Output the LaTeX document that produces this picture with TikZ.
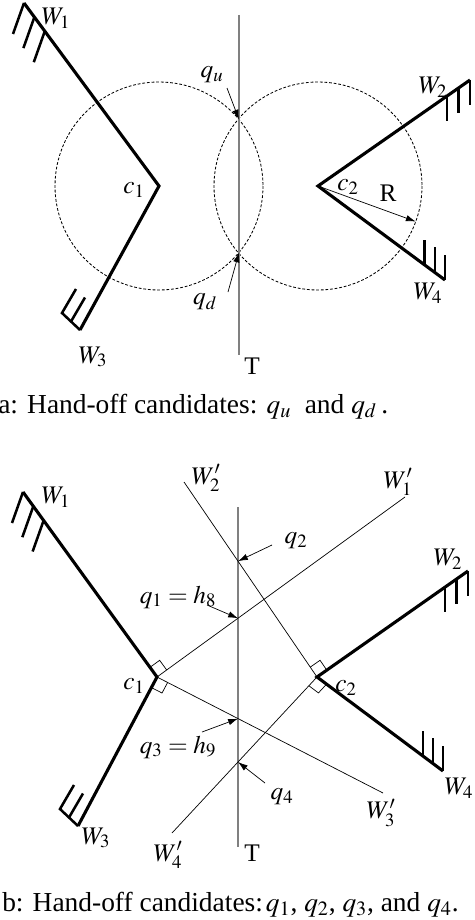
\documentclass[tikz,border=0pt]{standalone}
\usepackage{mathptmx}
\usepackage{fontspec}
\setmainfont{Liberation Serif}
\usetikzlibrary{calc,arrows.meta}
\tikzset{
  wall/.style={line width=2.2pt},
  hatch/.style={line width=1.8pt},
  thinline/.style={line width=0.5pt},
  track/.style={line width=0.9pt, gray},
  sensecircle/.style={dash pattern=on 2pt off 1.3pt, line width=0.6pt},
  pointer/.style={line width=0.5pt, -{Latex[length=7pt,width=4.5pt]}},
  lbl/.style={font=\fontsize{18}{21}\selectfont, inner sep=1pt},
  caption/.style={font=\fontsize{19.5}{23}\selectfont, inner sep=0pt}
}
% right-angle mark at corner #1 between directions to #2 and #3
\newcommand{\perpmark}[3]{%
  \draw[thinline] ($(#1)!8.5pt!(#2)$) -- ($(#1)!8.5pt!(#2)+(#1)!8.5pt!(#3)-(#1)$) -- ($(#1)!8.5pt!(#3)$);}

\begin{document}
\begin{tikzpicture}[x=0.025cm, y=-0.025cm]
  \useasboundingbox (0,0) rectangle (474,920);

  % ---- a: two circles of radius R
  \coordinate (c1) at (159,186);
  \coordinate (c2) at (318,186);
  \coordinate (w1) at (24,3);
  \coordinate (w3) at (80,330);
  \coordinate (w2) at (470,80);
  \coordinate (w4) at (445,280);
  \coordinate (tt) at (239,15);
  \coordinate (tb) at (239,355);
  \coordinate (qu) at (239,119.5);
  \coordinate (qd) at (239,252.5);

  \draw[sensecircle] (c1) circle[radius=104];
  \draw[sensecircle] (c2) circle[radius=104];
  \draw[track] (tt) -- (tb);

  \draw[wall] (w1) -- (c1) -- (w3);
  \draw[wall] (w2) -- (c2) -- (w4);
  \foreach \t in {0,0.077,0.154} \draw[hatch] ($(w1)!\t!(c1)$) -- ++(-11,31);
  \draw[hatch, line join=miter] (w3) -- ++(-18,-17) -- ++(14,-24);
  \draw[hatch] ($(w3)+(-9,-8.5)$) -- ++(14,-24);
  \foreach \t in {0,0.076,0.152} \draw[hatch] ($(w2)!\t!(c2)$) -- ++(0,25);
  \foreach \t in {0,0.08,0.16} \draw[hatch] ($(w4)!\t!(c2)$) -- ++(0,-25);

  \node[lbl] (lw1) at (56,18) {$W_1$};
  \node[lbl] (lw3) at (93,357) {$W_3$};
  \node[lbl] (lw2) at (433,87) {$W_2$};
  \node[lbl] (lw4) at (428,293) {$W_4$};
  \node[lbl] (lc1) at (134,190) {$c_1$};
  \node[lbl] (lc2) at (348,187) {$c_2$};
  \node[lbl] (lt) at (252,366) {T};

  \coordinate (qut) at (227,88);
  \coordinate (qdt) at (228,292);
  \draw[pointer] (qut) -- (qu);
  \draw[pointer] (qdt) -- (qd);
  \node[lbl] (lqu) at (212,75) {$q_u$};
  \node[lbl] (lqd) at (205,302) {$q_d$};

  \coordinate (rr) at ($(c2)+(20:104)$);
  \draw[pointer] (c2) -- (rr);
  \node[lbl] (lr) at (388,193) {R};

  \node[caption, anchor=base west] (capa) at (-2,413)
    {a: Hand-off candidates: $q_u$~ and $q_d$\,.};

  % ---- b: perpendiculars through the corners
  \coordinate (C1) at (157,677);
  \coordinate (C2) at (317,677);
  \coordinate (W1) at (23,492);
  \coordinate (W3) at (78,826);
  \coordinate (W2) at (468,571);
  \coordinate (W4) at (443,771);
  \coordinate (P1) at (405,497);
  \coordinate (P3) at (383,793);
  \coordinate (P2) at (184,482);
  \coordinate (P4) at (172,833);
  \coordinate (Tt) at (238,507);
  \coordinate (Tb) at (238,847);

  \draw[track] (Tt) -- (Tb);
  \draw[thinline] (C1) -- (P1);
  \draw[thinline] (C1) -- (P3);
  \draw[thinline] (C2) -- (P2);
  \draw[thinline] (C2) -- (P4);
  \perpmark{C1}{W1}{P1}
  \perpmark{C1}{W3}{P3}
  \perpmark{C2}{W2}{P2}
  \perpmark{C2}{W4}{P4}

  \draw[wall] (W1) -- (C1) -- (W3);
  \draw[wall] (W2) -- (C2) -- (W4);
  \foreach \t in {0,0.077,0.154} \draw[hatch] ($(W1)!\t!(C1)$) -- ++(-11,31);
  \draw[hatch, line join=miter] (W3) -- ++(-18,-17) -- ++(14,-24);
  \draw[hatch] ($(W3)+(-9,-8.5)$) -- ++(14,-24);
  \foreach \t in {0,0.076,0.152} \draw[hatch] ($(W2)!\t!(C2)$) -- ++(0,25);
  \foreach \t in {0,0.08,0.16} \draw[hatch] ($(W4)!\t!(C2)$) -- ++(0,-25);

  \coordinate (q1) at (intersection of C1--P1 and Tt--Tb);
  \coordinate (q2) at (intersection of C2--P2 and Tt--Tb);
  \coordinate (q3) at (intersection of C1--P3 and Tt--Tb);
  \coordinate (q4) at (intersection of C2--P4 and Tt--Tb);
  \coordinate (q1t) at (207,605);
  \coordinate (q2t) at (272,545);
  \coordinate (q3t) at (202,732);
  \coordinate (q4t) at (265,783);
  \draw[pointer] (q1t) -- (q1);
  \draw[pointer] (q2t) -- (q2);
  \draw[pointer] (q3t) -- (q3);
  \draw[pointer] (q4t) -- (q4);

  \node[lbl] (lq1) at (178,597) {$q_1 = h_8$};
  \node[lbl] (lq2) at (296,541) {$q_2$};
  \node[lbl] (lq3) at (178,747) {$q_3 = h_9$};
  \node[lbl] (lq4) at (282,797) {$q_4$};

  \node[lbl] (lW1) at (56,497) {$W_1$};
  \node[lbl] (lW3) at (96,838) {$W_3$};
  \node[lbl] (lW2) at (448,559) {$W_2$};
  \node[lbl] (lW4) at (459,788) {$W_4$};
  \node[lbl] (lC1) at (134,686) {$c_1$};
  \node[lbl] (lC2) at (346,688) {$c_2$};
  \node[lbl] (lP1) at (398,482) {$W_1'$};
  \node[lbl] (lP2) at (206,478) {$W_2'$};
  \node[lbl] (lP3) at (381,813) {$W_3'$};
  \node[lbl] (lP4) at (168,855) {$W_4'$};
  \node[lbl] (lT) at (252,853) {T};

  \node[caption, anchor=base west] (capb) at (2,911)
    {b: Hand-off candidates:$\,q_1$, $q_2$, $q_3$, and $q_4$.};
\end{tikzpicture}
\end{document}
